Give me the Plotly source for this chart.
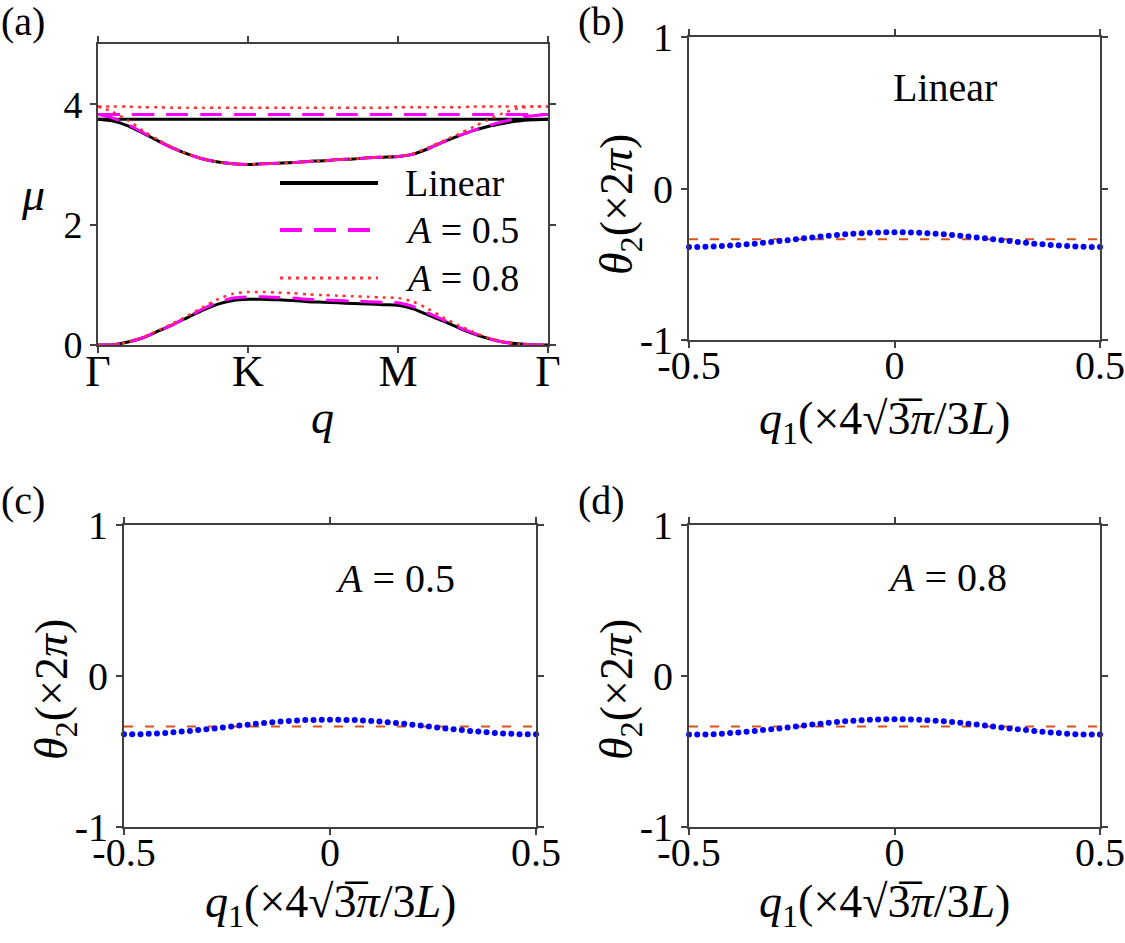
import plotly.graph_objects as go

# ---------------- data ----------------
# panel (a): band structure along Γ-K-M-Γ (path coordinate 0..3)
q_path = [0.0, 0.1, 0.2, 0.3, 0.4, 0.5, 0.6, 0.7, 0.8, 0.9, 1.0,
          1.1, 1.2, 1.3, 1.4, 1.5, 1.6, 1.7, 1.8, 1.9, 2.0,
          2.1, 2.2, 2.3, 2.4, 2.5, 2.6, 2.7, 2.8, 2.9, 3.0]
path_ticks = [0, 1, 2, 3]
path_labels = ["Γ", "K", "M", "Γ"]

band1_lin = [0.00, 0.005, 0.05, 0.12, 0.23, 0.34, 0.46, 0.58, 0.68, 0.74, 0.76,
             0.76, 0.75, 0.74, 0.72, 0.71, 0.70, 0.69, 0.68, 0.67, 0.66,
             0.60, 0.50, 0.40, 0.29, 0.19, 0.11, 0.05, 0.02, 0.005, 0.00]
band1_a05 = [0.00, 0.005, 0.05, 0.12, 0.23, 0.34, 0.47, 0.60, 0.71, 0.78, 0.80,
             0.80, 0.79, 0.78, 0.76, 0.75, 0.74, 0.73, 0.72, 0.71, 0.70,
             0.64, 0.53, 0.42, 0.30, 0.20, 0.11, 0.05, 0.02, 0.005, 0.00]
band1_a08 = [0.00, 0.005, 0.05, 0.13, 0.24, 0.36, 0.49, 0.63, 0.76, 0.85, 0.88,
             0.88, 0.87, 0.86, 0.84, 0.83, 0.82, 0.81, 0.80, 0.79, 0.78,
             0.72, 0.60, 0.46, 0.33, 0.22, 0.12, 0.06, 0.02, 0.005, 0.00]

band2_lin = [3.75, 3.72, 3.64, 3.52, 3.39, 3.27, 3.17, 3.09, 3.04, 3.01, 3.00,
             3.01, 3.02, 3.03, 3.05, 3.06, 3.08, 3.09, 3.11, 3.12, 3.13,
             3.17, 3.26, 3.37, 3.47, 3.56, 3.63, 3.68, 3.72, 3.74, 3.75]
band2_a05 = [3.83, 3.77, 3.66, 3.53, 3.39, 3.27, 3.17, 3.09, 3.04, 3.01, 3.00,
             3.01, 3.02, 3.03, 3.05, 3.06, 3.08, 3.09, 3.11, 3.12, 3.13,
             3.17, 3.26, 3.37, 3.47, 3.56, 3.64, 3.71, 3.77, 3.81, 3.83]
band2_a08 = [3.96, 3.87, 3.73, 3.56, 3.41, 3.28, 3.17, 3.09, 3.04, 3.01, 3.00,
             3.01, 3.02, 3.03, 3.05, 3.06, 3.08, 3.09, 3.11, 3.12, 3.13,
             3.18, 3.28, 3.39, 3.50, 3.62, 3.74, 3.85, 3.93, 3.96, 3.96]

band3_lin = [3.75, 3.75, 3.75, 3.75, 3.75, 3.75, 3.75, 3.75, 3.75, 3.75, 3.75,
             3.75, 3.75, 3.75, 3.75, 3.75, 3.75, 3.75, 3.75, 3.75, 3.75,
             3.75, 3.75, 3.75, 3.75, 3.75, 3.75, 3.75, 3.75, 3.75, 3.75]
band3_a05 = [3.83, 3.83, 3.83, 3.83, 3.83, 3.83, 3.83, 3.83, 3.83, 3.83, 3.83,
             3.83, 3.83, 3.83, 3.83, 3.83, 3.83, 3.83, 3.83, 3.83, 3.83,
             3.83, 3.83, 3.83, 3.83, 3.83, 3.83, 3.83, 3.83, 3.83, 3.83]
band3_a08 = [3.96, 3.96, 3.96, 3.95, 3.95, 3.94, 3.94, 3.94, 3.94, 3.94, 3.94,
             3.94, 3.94, 3.94, 3.94, 3.94, 3.94, 3.94, 3.94, 3.94, 3.95,
             3.95, 3.95, 3.95, 3.95, 3.96, 3.96, 3.96, 3.96, 3.96, 3.96]

# panels (b)-(d): Wilson-loop phase θ2 vs q1
q1 = [-0.50, -0.48, -0.46, -0.44, -0.42, -0.40, -0.38, -0.36, -0.34, -0.32,
      -0.30, -0.28, -0.26, -0.24, -0.22, -0.20, -0.18, -0.16, -0.14, -0.12,
      -0.10, -0.08, -0.06, -0.04, -0.02, 0.00, 0.02, 0.04, 0.06, 0.08,
      0.10, 0.12, 0.14, 0.16, 0.18, 0.20, 0.22, 0.24, 0.26, 0.28,
      0.30, 0.32, 0.34, 0.36, 0.38, 0.40, 0.42, 0.44, 0.46, 0.48, 0.50]
theta_lin = [-0.386, -0.386, -0.385, -0.383, -0.380, -0.377, -0.373, -0.368, -0.364, -0.358,
             -0.353, -0.347, -0.341, -0.335, -0.328, -0.323, -0.317, -0.312, -0.307, -0.302,
             -0.298, -0.295, -0.292, -0.291, -0.289, -0.289, -0.289, -0.291, -0.292, -0.295,
             -0.298, -0.302, -0.307, -0.312, -0.317, -0.323, -0.328, -0.335, -0.341, -0.347,
             -0.353, -0.358, -0.364, -0.368, -0.373, -0.377, -0.380, -0.383, -0.385, -0.386, -0.386]
theta_a05 = [-0.386, -0.386, -0.385, -0.383, -0.380, -0.377, -0.373, -0.368, -0.364, -0.358,
             -0.353, -0.347, -0.341, -0.335, -0.328, -0.323, -0.317, -0.312, -0.307, -0.302,
             -0.298, -0.295, -0.292, -0.291, -0.289, -0.289, -0.289, -0.291, -0.292, -0.295,
             -0.298, -0.302, -0.307, -0.312, -0.317, -0.323, -0.328, -0.335, -0.341, -0.347,
             -0.353, -0.358, -0.364, -0.368, -0.373, -0.377, -0.380, -0.383, -0.385, -0.386, -0.386]
theta_a08 = [-0.388, -0.388, -0.387, -0.385, -0.382, -0.378, -0.374, -0.369, -0.364, -0.358,
             -0.353, -0.347, -0.341, -0.334, -0.328, -0.322, -0.316, -0.310, -0.305, -0.300,
             -0.296, -0.293, -0.290, -0.288, -0.287, -0.287, -0.287, -0.288, -0.290, -0.293,
             -0.296, -0.300, -0.305, -0.310, -0.316, -0.322, -0.328, -0.334, -0.341, -0.347,
             -0.353, -0.358, -0.364, -0.369, -0.374, -0.378, -0.382, -0.385, -0.387, -0.388, -0.388]
ref_x = [-0.5, 0.5]
ref_theta = [-0.335, -0.335]

# ---------------- figure ----------------
W, H = 1125, 943
SERIF = "Liberation Serif, Times New Roman, Times, serif"
AXC = "#404040"

def px_x(p):
    return p / W

def px_y(p):
    return 1 - p / H

fig = go.Figure()

BLACK, MAG, RED = "#000000", "#ff00ff", "#ff3030"
LW = 3

def band(x, y, color, dash, name, width=LW):
    fig.add_trace(go.Scatter(x=x, y=y, mode="lines", name=name, showlegend=False,
                             line=dict(color=color, width=width, dash=dash, shape="spline", smoothing=0.8),
                             xaxis="x", yaxis="y"))

for b in (band1_lin, band2_lin, band3_lin):
    band(q_path, b, BLACK, "solid", "Linear")
for b in (band1_a05, band2_a05, band3_a05):
    band(q_path, b, MAG, "22px,12px", "A = 0.5")
for b in (band1_a08, band2_a08, band3_a08):
    band(q_path, b, RED, "3px,5px", "A = 0.8", width=2.5)

panels = [("x2", "y2", theta_lin), ("x3", "y3", theta_a05), ("x4", "y4", theta_a08)]
for xa, ya, th in panels:
    fig.add_trace(go.Scatter(x=ref_x, y=ref_theta, mode="lines", showlegend=False,
                             line=dict(color="#d95319", width=2, dash="9px,12px"),
                             xaxis=xa, yaxis=ya))
    fig.add_trace(go.Scatter(x=q1, y=th, mode="markers", showlegend=False, cliponaxis=False,
                             marker=dict(color="#0000ff", size=6, line=dict(width=0)),
                             xaxis=xa, yaxis=ya))

# domains (pixel positions of plot frames)
dom = {
    "a": ((98, 548), (44, 345)),
    "b": ((689, 1100), (37, 340)),
    "c": ((124, 536), (525, 827)),
    "d": ((689, 1100), (525, 827)),
}

def xdom(k):
    (l, r), _ = dom[k]
    return [px_x(l), px_x(r)]

def ydom(k):
    _, (t, b) = dom[k]
    return [px_y(b), px_y(t)]

axis_common = dict(showline=True, linecolor=AXC, linewidth=2, mirror="ticks",
                   ticks="outside", ticklen=6, tickwidth=2, tickcolor=AXC,
                   showgrid=False, zeroline=False, automargin=False,
                   tickfont=dict(family=SERIF, size=40, color="#000000"))

fig.update_layout(
    template="none",
    width=W, height=H, margin=dict(l=0, r=0, t=0, b=0, autoexpand=False),
    paper_bgcolor="white", plot_bgcolor="white", showlegend=False,
    xaxis=dict(domain=xdom("a"), range=[0, 3], anchor="y", tickvals=path_ticks,
               ticktext=path_labels, ticklabelstandoff=-20,
               **{**axis_common, "tickfont": dict(family=SERIF, size=44, color="#000")}),
    yaxis=dict(domain=ydom("a"), range=[0, 5], anchor="x", tickvals=[0, 2, 4],
               ticktext=["0", "2", "4"], **{**axis_common, "tickfont": dict(family=SERIF, size=38, color="#000")}),
)
for i, k in zip((2, 3, 4), ("b", "c", "d")):
    fig.update_layout(**{
        f"xaxis{i}": dict(domain=xdom(k), range=[-0.5, 0.5], anchor=f"y{i}",
                          tickvals=[-0.5, 0, 0.5], ticktext=["-0.5", "0", "0.5"],
                          ticklabelstandoff=-17, **axis_common),
        f"yaxis{i}": dict(domain=ydom(k), range=[-1, 1], anchor=f"x{i}",
                          tickvals=[-1, 0, 1], ticktext=["-1", "0", "1"], **axis_common),
    })

ann = []

def text(x, y, s, size=36, family=SERIF, angle=0, xanchor="center"):
    ann.append(dict(x=px_x(x), y=px_y(y), xref="paper", yref="paper", text=s,
                    showarrow=False, textangle=angle, xanchor=xanchor, yanchor="middle",
                    font=dict(family=family, size=size, color="#000000")))

# panel labels
text(23, 22, "(a)", size=40)
text(601, 22, "(b)", size=40)
text(23, 500, "(c)", size=40)
text(601, 500, "(d)", size=40)

# axis titles
text(33, 195, "<i>μ</i>", size=46)
text(322, 417, "<i>q</i>", size=46)
ytitle = "<i>θ</i><sub>2</sub>(×2<i>π</i>)"
xtitle = "<i>q</i><sub>1</sub>(×4√3\u0305<i>π</i>/3<i>L</i>)"
text(620, 205, ytitle, size=46, angle=-90)
text(55, 690, ytitle, size=46, angle=-90)
text(620, 690, ytitle, size=46, angle=-90)
text(884, 422, xtitle, size=46)
text(330, 905, xtitle, size=46)
text(884, 905, xtitle, size=46)

# in-panel labels
text(945, 88, "Linear", size=40)
text(395, 578, "<i>A</i>\u00a0=\u00a00.5", size=40)
text(947, 577, "<i>A</i>\u00a0=\u00a00.8", size=40)

# legend of panel (a)
shapes = []
leg_rows = [(183, BLACK, "solid", LW + 1, "Linear"),
            (230, MAG, "22px,12px", LW + 1, "<i>A</i>\u00a0=\u00a00.5"),
            (278, RED, "3px,5px", 3, "<i>A</i>\u00a0=\u00a00.8")]
for yy, col, dsh, w, lab in leg_rows:
    shapes.append(dict(type="line", xref="paper", yref="paper",
                       x0=px_x(280), x1=px_x(378), y0=px_y(yy), y1=px_y(yy),
                       line=dict(color=col, width=w, dash=dsh)))
    text(403, yy, lab, size=38, xanchor="left")

fig.update_layout(annotations=ann, shapes=shapes)
fig.write_html("out.html")
